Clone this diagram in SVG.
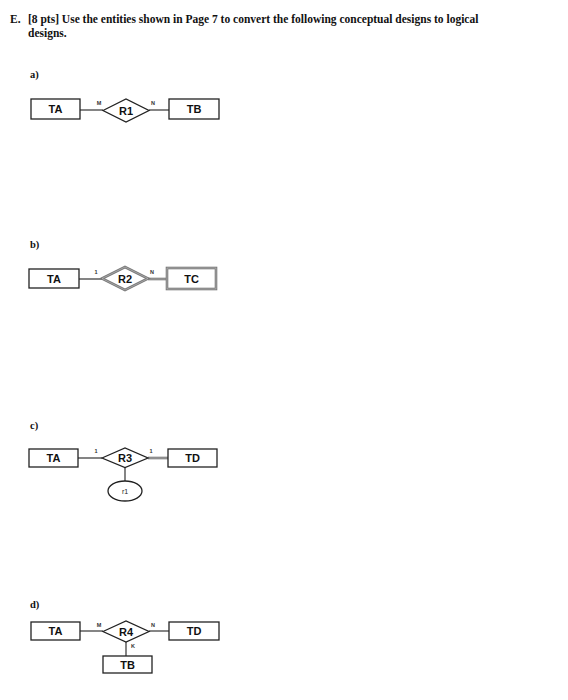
<svg xmlns="http://www.w3.org/2000/svg" width="568" height="700" viewBox="0 0 568 700">
<style>
.title{font-family:"Liberation Serif",serif;font-weight:bold;font-size:11.5px;fill:#111}
.part{font-family:"Liberation Serif",serif;font-weight:bold;font-size:10.5px;fill:#111}
.ent{fill:#fff;stroke:#222;stroke-width:1.3}
.ename{font-family:"Liberation Sans",Arial,sans-serif;font-weight:bold;font-size:11px;fill:#111;text-anchor:middle}
.card{font-family:"Liberation Sans",Arial,sans-serif;font-weight:bold;font-size:5.5px;fill:#333;text-anchor:middle}
.ln{stroke:#333;stroke-width:1.2;fill:none}
.dbl{stroke:#777;stroke-width:2.6;fill:none}
.dblin{stroke:#bbb;stroke-width:0.7;fill:none}
.attr{font-family:"Liberation Sans",Arial,sans-serif;font-size:7px;fill:#222;text-anchor:middle}
</style>
<rect width="568" height="700" fill="#fff"/>
<g id="title">
<text class="title" x="10" y="23">E.</text>
<text class="title" x="28" y="23">[8 pts] Use the entities shown in Page 7 to convert the following conceptual designs to logical</text>
<text class="title" x="28" y="37">designs.</text>
<text class="part" x="30" y="78">a)</text>
<text class="part" x="30" y="248">b)</text>
<text class="part" x="30" y="429">c)</text>
<text class="part" x="30" y="608">d)</text>
</g>
<g id="connectors">
<line class="ln" x1="80" y1="110" x2="103" y2="110"/>
<line class="ln" x1="149" y1="110" x2="169" y2="110"/>
<line class="ln" x1="79" y1="279" x2="102" y2="279"/>
<line class="dbl" x1="148" y1="279" x2="167" y2="279"/>
<line class="dblin" x1="148" y1="279" x2="167" y2="279"/>
<line class="ln" x1="78" y1="458" x2="102" y2="458"/>
<line class="dbl" x1="148" y1="458" x2="168" y2="458"/>
<line class="dblin" x1="148" y1="458" x2="168" y2="458"/>
<line class="ln" x1="125" y1="467" x2="125" y2="481"/>
<line class="ln" x1="80" y1="631" x2="103" y2="631"/>
<line class="ln" x1="149" y1="631" x2="169" y2="631"/>
<line class="ln" x1="126" y1="642" x2="126" y2="656"/>
<text class="card" x="99" y="105">M</text>
<text class="card" x="153" y="105">N</text>
<text class="card" x="96" y="274">1</text>
<text class="card" x="152" y="274">N</text>
<text class="card" x="96" y="453">1</text>
<text class="card" x="151" y="453">1</text>
<text class="card" x="99" y="627">M</text>
<text class="card" x="153" y="627">N</text>
<text class="card" x="133" y="648">K</text>
</g>
<g id="a_TA"><rect class="ent" x="31" y="99" width="49" height="20"/><text class="ename" x="55.5" y="113">TA</text></g>
<g id="a_R1"><polygon class="ent" points="103,110.5 126,99 149,110.5 126,122"/><text class="ename" x="126" y="114.5">R1</text></g>
<g id="a_TB"><rect class="ent" x="169" y="99" width="50" height="20"/><text class="ename" x="194" y="113">TB</text></g>
<g id="b_TA"><rect class="ent" x="29" y="269" width="50" height="19"/><text class="ename" x="54" y="282.5">TA</text></g>
<g id="b_R2"><polygon class="dbl" points="102,278.5 125,267 148,278.5 125,290" fill="#fff"/><polygon class="dblin" points="102,278.5 125,267 148,278.5 125,290"/><text class="ename" x="125" y="282.5">R2</text></g>
<g id="b_TC"><rect class="dbl" x="167" y="268" width="49" height="21" fill="#fff"/><rect class="dblin" x="167" y="268" width="49" height="21"/><text class="ename" x="191.5" y="282.5">TC</text></g>
<g id="c_TA"><rect class="ent" x="29" y="449" width="49" height="18"/><text class="ename" x="53.5" y="462">TA</text></g>
<g id="c_R3"><polygon class="ent" points="102,458 125,448 148,458 125,467.5"/><text class="ename" x="125" y="462">R3</text></g>
<g id="c_TD"><rect class="ent" x="168" y="449" width="49" height="18"/><text class="ename" x="192.5" y="462">TD</text></g>
<g id="c_r1"><ellipse class="ent" cx="125" cy="491" rx="17" ry="10"/><text class="attr" x="125" y="493.5">r1</text></g>
<g id="d_TA"><rect class="ent" x="31" y="622" width="49" height="18"/><text class="ename" x="55.5" y="635">TA</text></g>
<g id="d_R4"><polygon class="ent" points="103,631.5 126,621 149,631.5 126,642"/><text class="ename" x="126" y="635.5">R4</text></g>
<g id="d_TD"><rect class="ent" x="169" y="622" width="50" height="18"/><text class="ename" x="194" y="635">TD</text></g>
<g id="d_TB"><rect class="ent" x="103" y="656" width="49" height="17"/><text class="ename" x="127.5" y="668.5">TB</text></g>
</svg>
